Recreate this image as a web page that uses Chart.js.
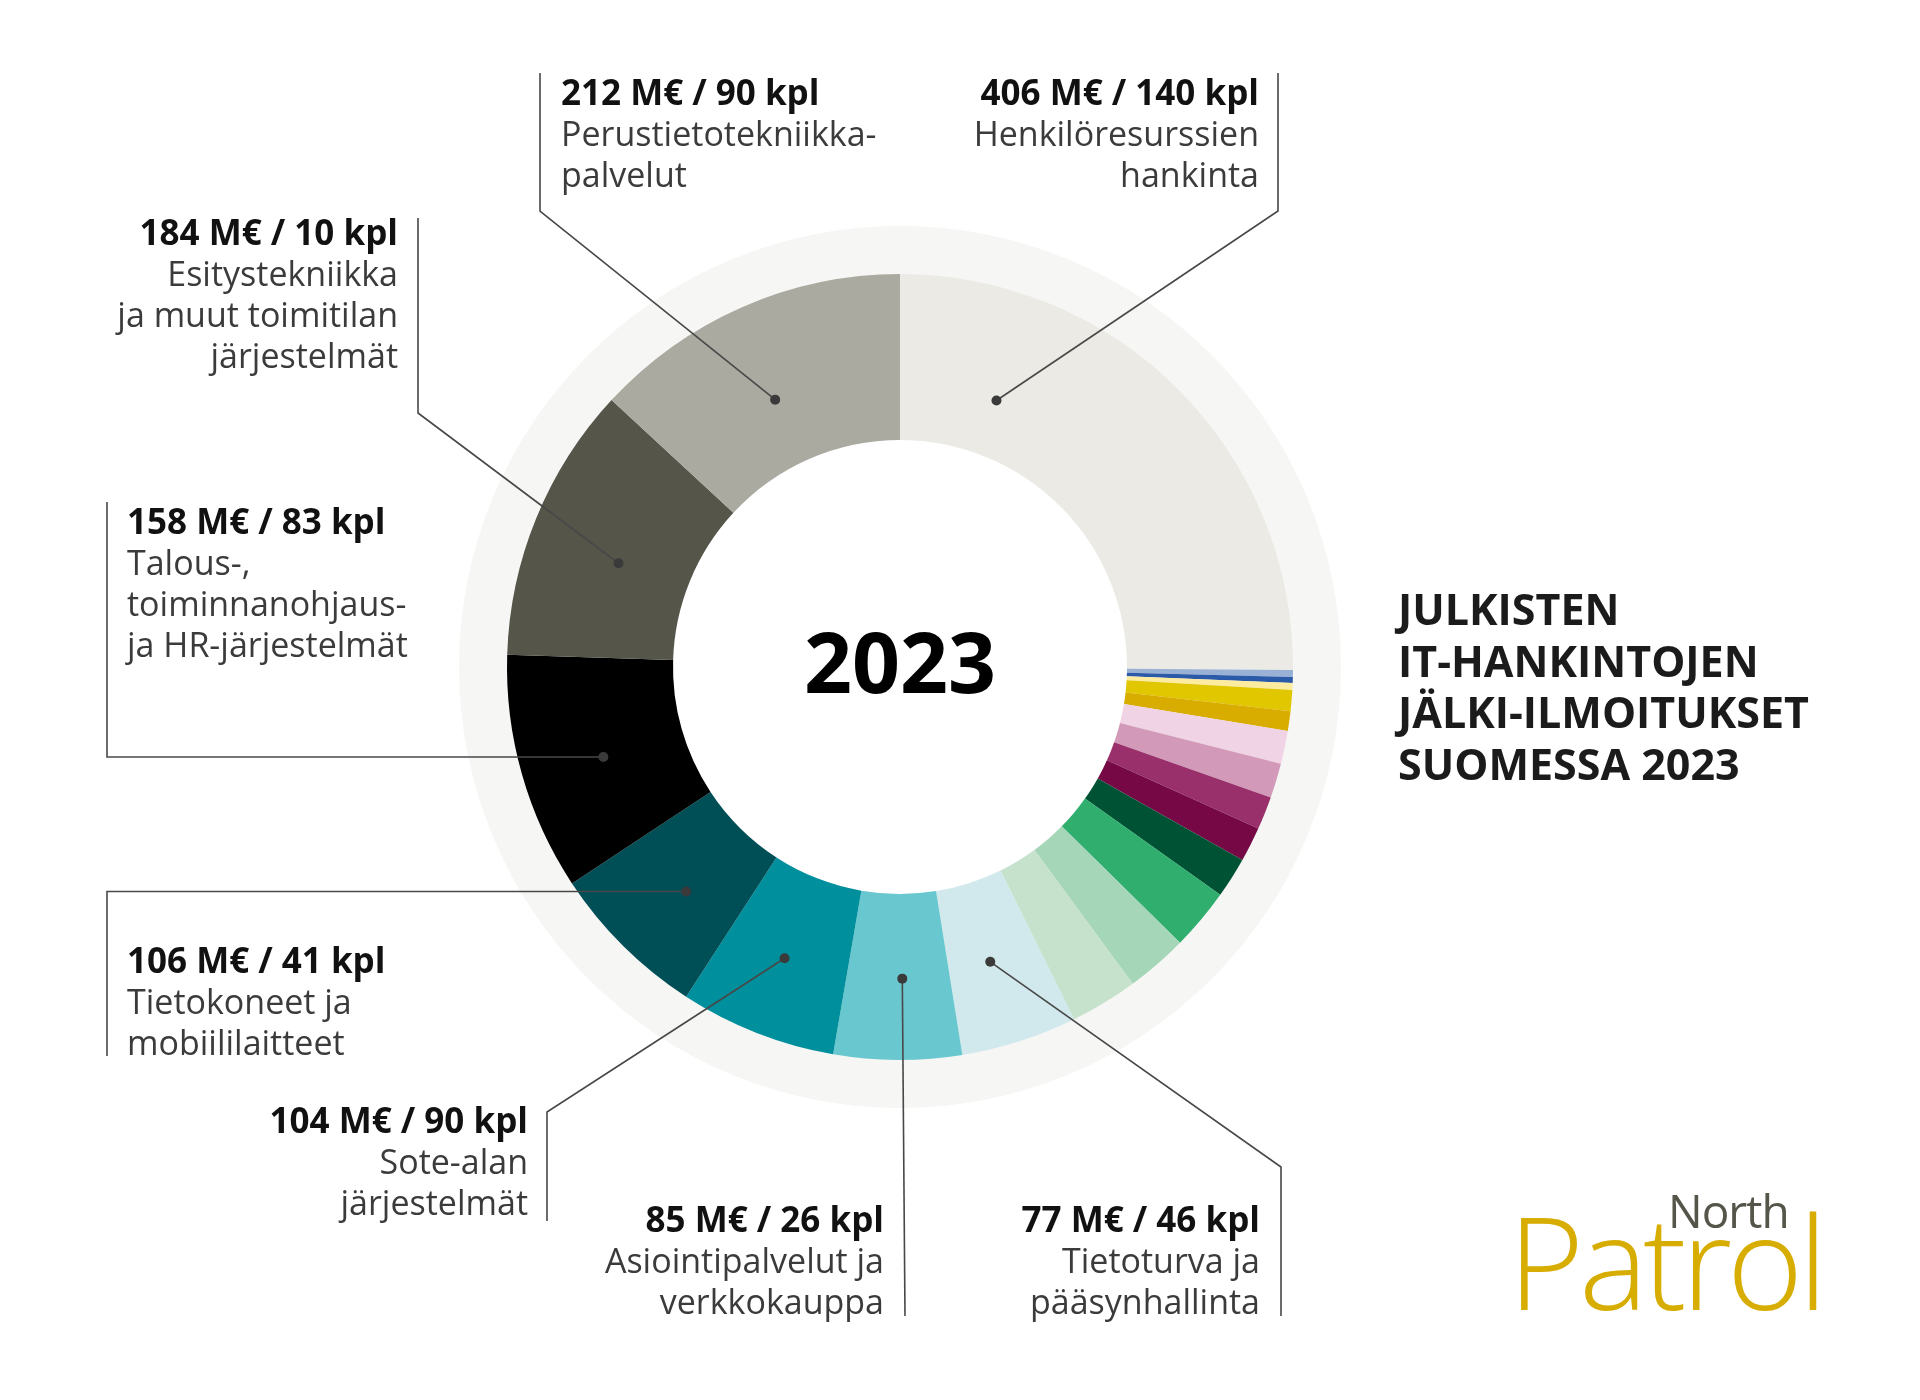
<!DOCTYPE html>
<html>
<head>
<meta charset="utf-8">
<title>Julkisten IT-hankintojen jälki-ilmoitukset Suomessa 2023</title>
<script src="https://cdn.jsdelivr.net/npm/chart.js@4.4.1/dist/chart.umd.min.js"></script>
<style>
    html, body { margin: 0; padding: 0; background: #fff; }
    #wrap { position: relative; width: 1920px; height: 1400px; overflow: hidden; }
    #chart { position: absolute; left: 0; top: 0; }
    .title {
        position: absolute; left: 1398px; top: 583px;
        font-family: 'Open Sans', sans-serif; font-weight: 700;
        font-size: 43px; line-height: 51.5px; color: #1b1b1b;
        white-space: nowrap;
    }
    .north {
        position: absolute; left: 1668px; top: 1187px;
        font-family: 'Open Sans', sans-serif; font-size: 46px; line-height: 46px;
        color: #56554a; letter-spacing: -1px;
    }
    .patrol {
        position: absolute; left: 1508px; top: 1195px;
        font-family: 'Open Sans', sans-serif; font-weight: 300; font-size: 130px; line-height: 130px;
        color: #d6ad00; letter-spacing: -5px;
    }
</style>
</head>
<body>
<div id="wrap">
    <canvas id="chart" width="1920" height="1400"></canvas>
    <div class="title">JULKISTEN<br>IT-HANKINTOJEN<br>JÄLKI-ILMOITUKSET<br>SUOMESSA 2023</div>
    <div class="north">North</div>
    <div class="patrol">Patrol</div>
</div>
<script>
// categories clockwise from 12 o'clock; the small slices carry no label in the original
let categories = [
    'Henkilöresurssien hankinta',
    '', '', '', '', '', '', '', '', '', '', '', '', '',
    'Tietoturva ja pääsynhallinta',
    'Asiointipalvelut ja verkkokauppa',
    'Sote-alan järjestelmät',
    'Tietokoneet ja mobiililaitteet',
    'Talous-, toiminnanohjaus- ja HR-järjestelmät',
    'Esitystekniikka ja muut toimitilan järjestelmät',
    'Perustietotekniikkapalvelut'
];

// M€ (unlabelled slices estimated from their angle)
let valuesMEUR = [406, 4.5, 4, 4.5, 14, 13, 22, 23, 22, 23, 27, 41, 41, 45, 77, 85, 104, 106, 158, 184, 212];

// notices (kpl), only known for labelled slices
let counts = [140, null, null, null, null, null, null, null, null, null, null, null, null, null, 46, 26, 90, 41, 83, 10, 90];

let descriptions = [
    ['Henkilöresurssien', 'hankinta'],
    [], [], [], [], [], [], [], [], [], [], [], [], [],
    ['Tietoturva ja', 'pääsynhallinta'],
    ['Asiointipalvelut ja', 'verkkokauppa'],
    ['Sote-alan', 'järjestelmät'],
    ['Tietokoneet ja', 'mobiililaitteet'],
    ['Talous-,', 'toiminnanohjaus-', 'ja HR-järjestelmät'],
    ['Esitystekniikka', 'ja muut toimitilan', 'järjestelmät'],
    ['Perustietotekniikka-', 'palvelut']
];

let sliceColors = [
    '#ebeae5',
    '#9ab1d6', '#2b5ba8', '#fdeca0', '#e0c700', '#d9ad00',
    '#f0d3e5', '#d29ab8', '#99306b', '#770846',
    '#005234', '#2fae6d', '#a6d6b8', '#c6e2cd',
    '#d1e9ec', '#68c7cf', '#008f9c', '#004f57', '#000000', '#56554a', '#abaaa1'
];

let centerText = '2023';

// callout layout: where the dot sits in the slice (t along, u across) and the leader path
let callouts = [
    { index: 0,  t: 0.22, u: 0.34, path: [[1278, 211], [1278, 73]],  align: 'right', x: 1259, y: 105 },
    { index: 20, t: 0.47, u: 0.41, path: [[540, 211], [540, 73]],    align: 'left',  x: 561,  y: 105 },
    { index: 19, t: 0.45, u: 0.44, path: [[418, 413], [418, 218]],   align: 'right', x: 398,  y: 245 },
    { index: 18, t: 0.47, u: 0.50, path: [[107, null], [107, 502]],  align: 'left',  x: 127,  y: 534 },
    { index: 17, t: 0.45, u: 0.50, path: [[107, null], [107, 1056]], align: 'left',  x: 127,  y: 973 },
    { index: 16, t: 0.51, u: 0.52, path: [[547, 1112], [547, 1221]], align: 'right', x: 528,  y: 1133 },
    { index: 15, t: 0.46, u: 0.51, path: [[905, 1316]],              align: 'right', x: 884,  y: 1232 },
    { index: 14, t: 0.54, u: 0.49, path: [[1281, 1167], [1281, 1316]], align: 'right', x: 1260, y: 1232 }
];

const ringPlugin = {
    id: 'ring',
    beforeDatasetsDraw(chart) {
        let arc = chart.getDatasetMeta(0).data[0];
        let ctx = chart.ctx;
        ctx.save();
        ctx.fillStyle = '#f6f6f4';
        ctx.beginPath();
        ctx.arc(arc.x, arc.y, arc.outerRadius * 441 / 393, 0, Math.PI * 2);
        ctx.fill();
        ctx.fillStyle = '#ffffff';
        ctx.beginPath();
        ctx.arc(arc.x, arc.y, arc.innerRadius, 0, Math.PI * 2);
        ctx.fill();
        ctx.restore();
    }
};

const calloutPlugin = {
    id: 'callouts',
    afterDatasetsDraw(chart) {
        let ctx = chart.ctx;
        let meta = chart.getDatasetMeta(0);
        ctx.save();

        // year in the hole
        let first = meta.data[0];
        ctx.fillStyle = '#000';
        ctx.font = '700 84px "Open Sans"';
        ctx.textAlign = 'center';
        ctx.textBaseline = 'alphabetic';
        ctx.fillText(centerText, first.x, first.y + 26);

        callouts.forEach(c => {
            let arc = meta.data[c.index];
            let p = arc.getProps(['x', 'y', 'startAngle', 'endAngle', 'innerRadius', 'outerRadius'], true);
            let a = p.startAngle + c.t * (p.endAngle - p.startAngle);
            let r = p.innerRadius + c.u * (p.outerRadius - p.innerRadius);
            let dx = p.x + r * Math.cos(a);
            let dy = p.y + r * Math.sin(a);

            ctx.strokeStyle = '#484848';
            ctx.lineWidth = 1.6;
            ctx.beginPath();
            ctx.moveTo(dx, dy);
            c.path.forEach(pt => ctx.lineTo(pt[0], pt[1] === null ? dy : pt[1]));
            ctx.stroke();

            ctx.fillStyle = '#3a3a3a';
            ctx.beginPath();
            ctx.arc(dx, dy, 5, 0, Math.PI * 2);
            ctx.fill();

            ctx.textAlign = c.align;
            ctx.fillStyle = '#111';
            ctx.font = '700 35px "Open Sans"';
            ctx.fillText(valuesMEUR[c.index] + ' M€ / ' + counts[c.index] + ' kpl', c.x, c.y);
            ctx.fillStyle = '#3b3b3b';
            ctx.font = '400 34px "Open Sans"';
            descriptions[c.index].forEach((line, k) => {
                ctx.fillText(line, c.x, c.y + 41 * (k + 1));
            });
        });
        ctx.restore();
    }
};

new Chart(document.getElementById('chart').getContext('2d'), {
    type: 'doughnut',
    data: {
        labels: categories,
        datasets: [{
            data: valuesMEUR,
            backgroundColor: sliceColors,
            borderWidth: 0,
            hoverOffset: 0
        }]
    },
    options: {
        responsive: false,
        devicePixelRatio: 1,
        animation: false,
        events: [],
        cutout: 227,
        layout: {
            padding: { left: 507, right: 627, top: 274, bottom: 340 }
        },
        plugins: {
            legend: { display: false },
            tooltip: { enabled: false }
        }
    },
    plugins: [ringPlugin, calloutPlugin]
});
</script>
</body>
</html>
